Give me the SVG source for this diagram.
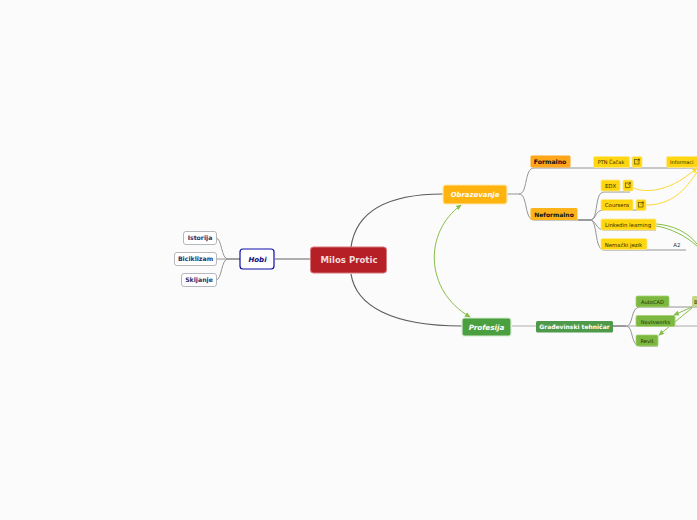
<svg xmlns="http://www.w3.org/2000/svg" width="697" height="520" viewBox="0 0 697 520">
<defs>
<marker id="ag" markerWidth="6" markerHeight="6" refX="5" refY="3" orient="auto-start-reverse" markerUnits="userSpaceOnUse"><path d="M0,0.5L6,3L0,5.500Z" fill="#86c048"/></marker>
<marker id="ay" markerWidth="6" markerHeight="6" refX="5" refY="3" orient="auto" markerUnits="userSpaceOnUse"><path d="M0,0.5L6,3L0,5.500Z" fill="#fdd835"/></marker>
<g id="ico"><rect x="0" y="0.500" width="4.500" height="4.500" fill="none" stroke="#5a4d10" stroke-width=".7"/><path d="M2.500 2.500L5 0M3.500 0H5V1.500" fill="none" stroke="#5a4d10" stroke-width=".6"/></g>
</defs>
<style>
text{font-family:"DejaVu Sans",sans-serif;text-anchor:middle}
.c{fill:none;stroke:#949494;stroke-width:1}
.d{fill:none;stroke:#5c5c5c;stroke-width:1.200}
.l{fill:none;stroke:#c4c4c4;stroke-width:1.400}
.g{fill:none;stroke:#86c048;stroke-width:1}
.y{fill:none;stroke:#fdd835;stroke-width:1}
.hb{fill:#fff;stroke:#b5b8bd;stroke-width:1}
.ht{font-size:6.200px;font-weight:bold;fill:#1c3370}
.yb{fill:#ffd60f;stroke:#fde98a;stroke-width:.8}
.yt{font-size:5.400px;fill:#332a00;font-weight:500}
.gb{fill:#7cb83f;stroke:#a6d177;stroke-width:.8}
.gt{font-size:5.200px;fill:#22330a}
</style>
<rect width="697" height="520" fill="#fbfbfb"/>
<g id="connectors">
<path class="d" d="M351 247C356 212 385 194 443 194"/>
<path class="d" d="M351 274C356 306 392 326 462 326"/>
<path class="c" d="M275 259H310" style="stroke-width:1.400"/>
<path class="c" d="M240 259H228C221 259 222 238 216 238"/>
<path class="c" d="M240 259H217"/>
<path class="c" d="M240 259H228C221 259 222 280 216 280"/>
<path class="c" d="M507 194H519C528 194 524 168 534 168H697"/>
<path class="c" d="M519 194C528 194 524 220 534 220H578"/>
<path class="d" d="M578 220H590"/>
<path class="c" d="M590 220C599 220 594 192 604 192H630"/>
<path class="c" d="M590 220C597 220 594 210 604 210H642"/>
<path class="c" d="M590 220C596 220 596 230 604 230H656"/>
<path class="c" d="M590 220C598 220 594 250 604 250H686"/>
<path class="l" d="M512 326H536"/>
<path class="d" d="M613 326H626"/>
<path class="c" d="M626 326C634 326 630 307 640 307H697"/>
<path class="l" d="M626 326H697"/>
<path class="c" d="M626 326C634 326 630 346 640 346H658"/>
<path class="g" d="M461 205C424 232 424 290 470 317" marker-start="url(#ag)" marker-end="url(#ag)"/>
<path class="y" d="M632 187C640 192 665 196 697 168" marker-end="url(#ay)"/>
<path class="y" d="M646 205C672 205 685 190 697 172"/>
<path class="g" d="M656 224C672 225 688 232 697 244"/>
<path class="g" d="M656 226C670 228 686 236 697 246"/>
<path class="g" d="M692 307L674 315" marker-end="url(#ag)"/>
<path class="g" d="M692 308L659 335" marker-end="url(#ag)"/>
</g>
<g id="n-root"><rect x="310.500" y="247" width="76" height="26" rx="3" fill="#b71f27" stroke="#d8777c"/><text x="349" y="263" font-size="8.600" font-weight="bold" fill="#f3dcdc">Milos Protic</text></g>
<g id="n-hobi"><rect x="240" y="249" width="34" height="20" rx="3" fill="#fff" stroke="#0d0da8" stroke-width="1.200"/><text x="257.500" y="261.500" font-size="7" font-weight="bold" font-style="italic" fill="#0d0d80">Hobi</text></g>
<g id="n-istorija"><rect class="hb" x="183.500" y="231.500" width="33" height="13" rx="2.500"/><text class="ht" x="200" y="240">Istorija</text></g>
<g id="n-biciklizam"><rect class="hb" x="174.500" y="252.500" width="42" height="13" rx="2.500"/><text class="ht" x="195.500" y="261">Biciklizam</text></g>
<g id="n-skijanje"><rect class="hb" x="181.500" y="273.500" width="35" height="13" rx="2.500"/><text class="ht" x="199" y="282">Skijanje</text></g>
<g id="n-obrazovanje"><rect x="443" y="185" width="64" height="19" rx="2.500" fill="#ffb30f" stroke="#ffe9b0" stroke-width="1.200"/><text x="475" y="197" font-size="6.900" font-weight="bold" font-style="italic" fill="#fff">Obrazovanje</text></g>
<g id="n-profesija"><rect x="462" y="318" width="49" height="18" rx="2.500" fill="#4aa03f" stroke="#d5e9d0" stroke-width="1.200"/><text x="486.500" y="330" font-size="7.200" font-weight="bold" font-style="italic" fill="#fff">Profesija</text></g>
<g id="n-formalno"><rect x="530.500" y="155.500" width="40" height="12" rx="1.500" fill="#ffa61a"/><text x="550" y="164" font-size="6.200" font-weight="bold" fill="#111">Formalno</text></g>
<g id="n-neformalno"><rect x="530.500" y="208" width="47" height="12" rx="1.500" fill="#ffb31a"/><text x="554" y="217" font-size="6" font-weight="bold" fill="#111">Neformalno</text></g>
<g id="n-ptn"><rect class="yb" x="593.500" y="156.500" width="36" height="11" rx="1.500"/><text class="yt" x="611" y="164" style="font-size:5px">PTN Čačak</text></g>
<g id="n-ptn-link"><rect class="yb" x="632" y="156.500" width="10" height="11" rx="1.500"/><use href="#ico" x="634.500" y="159"/></g>
<g id="n-inf"><rect class="yb" x="666.500" y="156.500" width="40" height="11" rx="1.500"/><text class="yt" x="670" y="164" style="text-anchor:start;font-size:5px">Informaci</text></g>
<g id="n-edx"><rect class="yb" x="601" y="180" width="19" height="11" rx="1.500"/><text class="yt" x="610.500" y="187.500">EDX</text></g>
<g id="n-edx-link"><rect class="yb" x="623" y="180" width="10" height="11" rx="1.500"/><use href="#ico" x="625.500" y="182.500"/></g>
<g id="n-coursera"><rect class="yb" x="601" y="199.500" width="32" height="11" rx="1.500"/><text class="yt" x="617" y="207">Coursera</text></g>
<g id="n-coursera-link"><rect class="yb" x="636" y="199.500" width="10" height="11" rx="1.500"/><use href="#ico" x="638.500" y="202"/></g>
<g id="n-linkedin"><rect class="yb" x="601" y="219" width="55" height="11" rx="1.500"/><text class="yt" x="628" y="226.500">Linkedin learning</text></g>
<g id="n-nemacki"><rect class="yb" x="601" y="238.500" width="46" height="11" rx="1.500"/><text class="yt" x="623.500" y="246.500">Nemački jezik</text></g>
<g id="n-a2"><text x="677" y="246.500" font-size="5.500" fill="#333">A2</text></g>
<g id="n-gt"><rect x="536" y="321" width="77" height="11.500" rx="1.500" fill="#4f9a4a"/><text x="574.500" y="329" font-size="6" font-weight="bold" fill="#fff">Građevinski tehničar</text></g>
<g id="n-autocad"><rect class="gb" x="636" y="296" width="33" height="11" rx="1.500"/><text class="gt" x="652.500" y="303.500">AutoCAD</text></g>
<g id="n-navis"><rect class="gb" x="636" y="315.500" width="39" height="11" rx="1.500"/><text class="gt" x="655.500" y="323.500">Navisworks</text></g>
<g id="n-revit"><rect class="gb" x="636" y="335" width="22" height="11" rx="1.500"/><text class="gt" x="647" y="342.500">Revit</text></g>
<g id="n-b"><rect x="692" y="296" width="12" height="11" rx="1.500" fill="#c5d68a"/><text class="gt" x="694" y="303.500" style="text-anchor:start">B</text></g>
</svg>
